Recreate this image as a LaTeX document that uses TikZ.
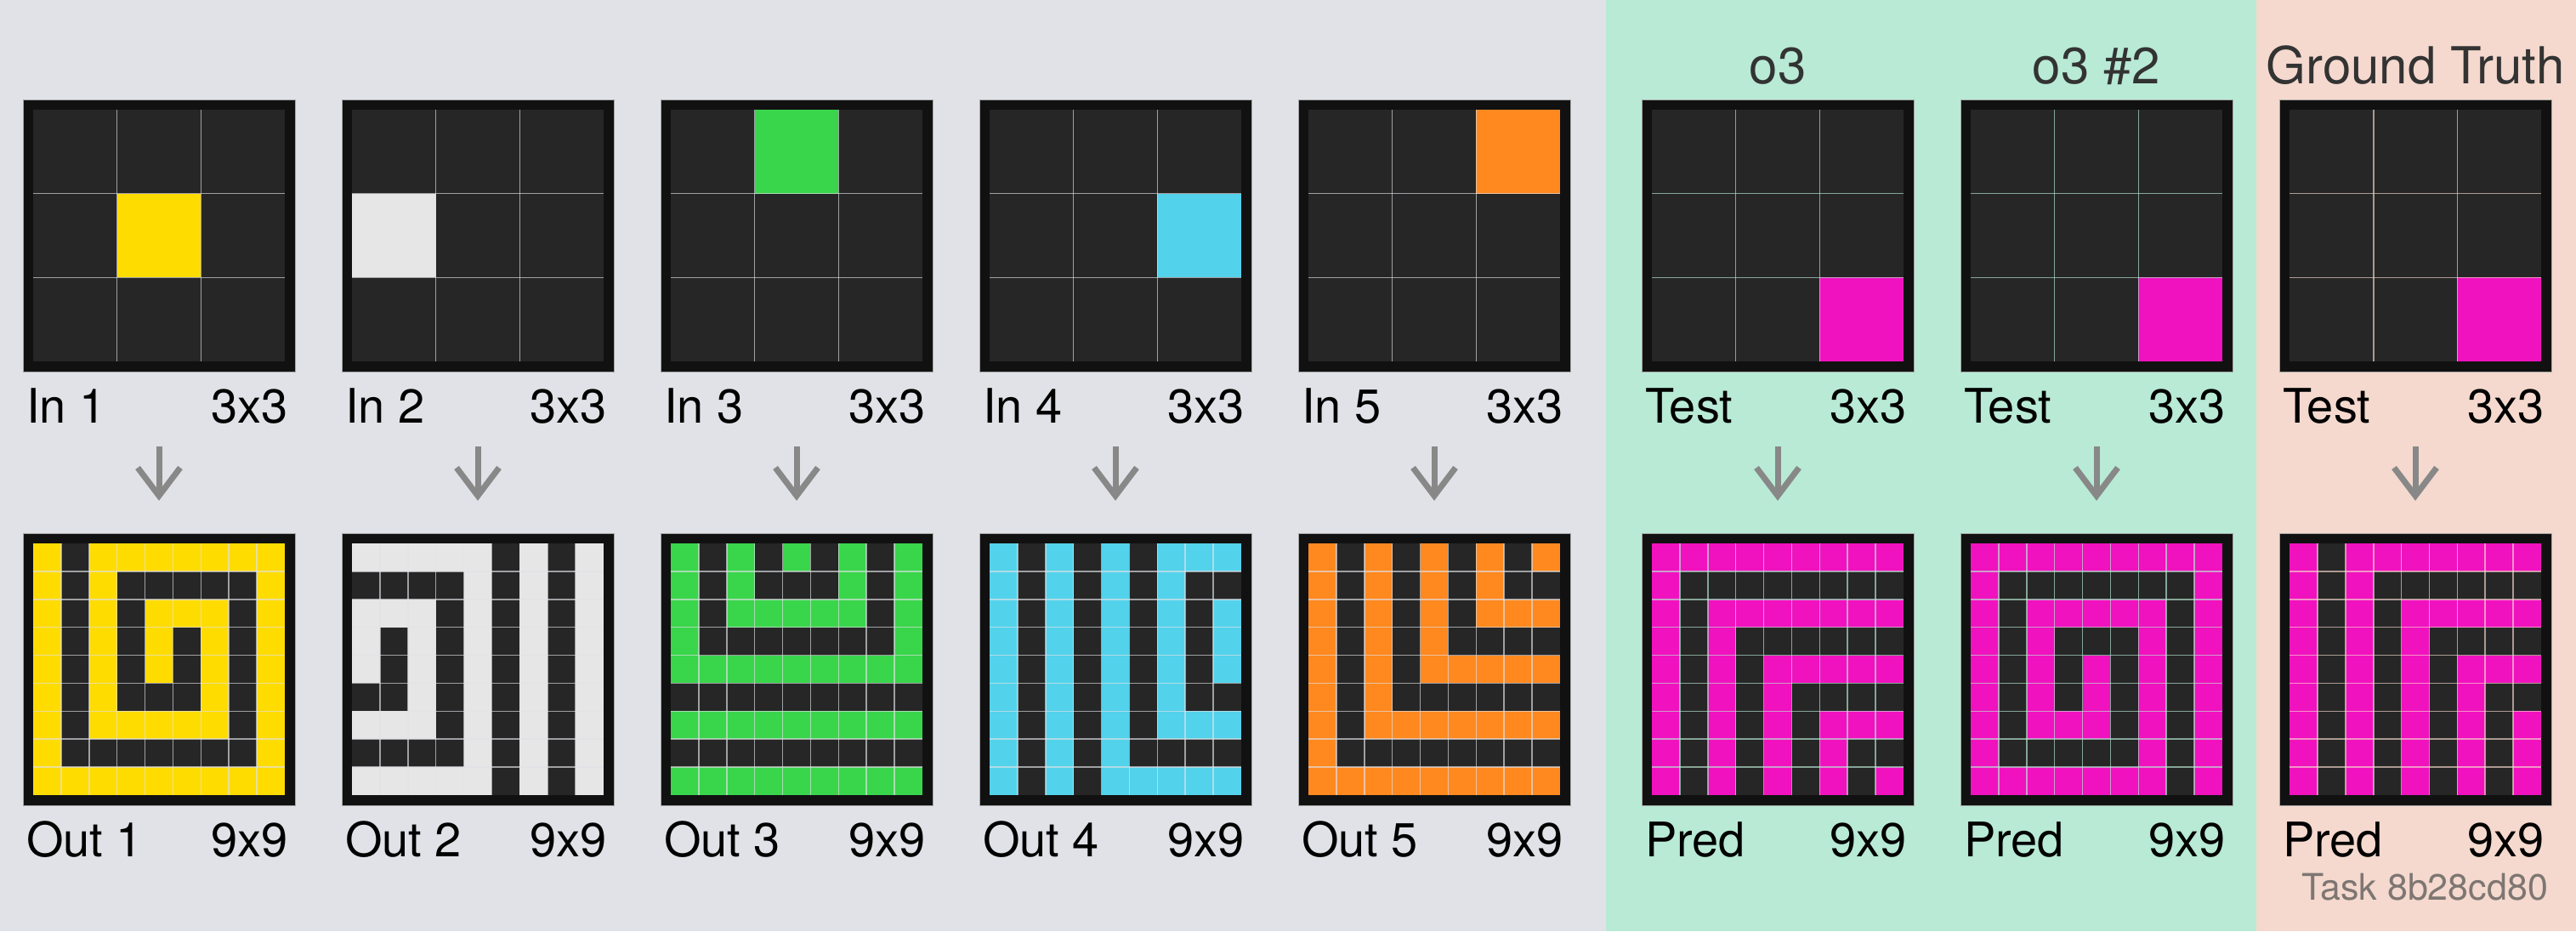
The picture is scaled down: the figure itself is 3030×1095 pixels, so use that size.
\documentclass[tikz,border=0pt]{standalone}
\usepackage{fontspec}
\setmainfont{TeX Gyre Heros}
\usetikzlibrary{calc}
\definecolor{pgray}{HTML}{E1E2E7}
\definecolor{pgreen}{HTML}{B8EAD5}
\definecolor{ppink}{HTML}{F5D9CE}
\definecolor{frameblk}{HTML}{111111}
\definecolor{cellblk}{HTML}{262626}
\definecolor{cyel}{HTML}{FFDC00}
\definecolor{cwht}{HTML}{E6E6E6}
\definecolor{cgrn}{HTML}{39D54B}
\definecolor{ccyn}{HTML}{53D2EB}
\definecolor{corg}{HTML}{FF891F}
\definecolor{cmag}{HTML}{F012BE}
\definecolor{hdrtxt}{HTML}{333333}
\definecolor{arrgray}{HTML}{888888}
\definecolor{tasktxt}{HTML}{7E7672}
\tikzset{
  gridframe/.style={fill=frameblk, draw=gray!70, line width=1pt, minimum width=320pt, minimum height=320pt, inner sep=0pt, outer sep=0pt},
  lbl/.style={font=\fontsize{56}{60}\selectfont, text=black, inner sep=0pt, outer sep=0pt},
  hdr/.style={font=\fontsize{60}{64}\selectfont, text=hdrtxt, inner sep=0pt, outer sep=0pt},
  tasklbl/.style={font=\fontsize{43}{46}\selectfont, text=tasktxt, inner sep=0pt, outer sep=0pt},
  arrln/.style={draw=arrgray, line width=7pt, line join=miter},
}
% #1 name, #2 x, #3 y, #4 n, #5 fill colour, #6 line colour, #7 rows
\newcommand\arcgrid[7]{%
  \node[gridframe, anchor=north west] (#1) at (#2,#3) {};
  \fill[cellblk] (#2+12,#3+12) rectangle ++(296,296);
  \pgfmathsetmacro\cellsz{296/#4}
  \pgfmathtruncatemacro\nmone{#4-1}
  \foreach \rowlist [count=\rr from 0] in {#7} {
    \foreach \vv [count=\cc from 0] in \rowlist {
      \ifnum\vv=1 \fill[#5] ({#2+12+\cc*\cellsz},{#3+12+\rr*\cellsz}) rectangle ++(\cellsz,\cellsz);\fi
    }
  }
  \foreach \kk in {1,...,\nmone} {
    \draw[#6, opacity=0.65, line width=1.6pt] ({#2+12+\kk*\cellsz},{#3+12}) -- ++(0,296);
    \draw[#6, opacity=0.65, line width=1.6pt] ({#2+12},{#3+12+\kk*\cellsz}) -- ++(296,0);
  }
}
\newcommand\gridlabels[3]{%
  \node[lbl, anchor=base west] (#1-l) at ($(#1.south west)+(4,60)$) {#2};
  \node[lbl, anchor=base east] (#1-r) at ($(#1.south east)+(-8,60)$) {#3};
}
\newcommand\gridarrow[2]{%
  \coordinate (#1-as) at ($(#1.south)+(0,88)$);
  \coordinate (#1-ae) at ($(#2.north)+(0,-44)$);
  \draw[arrln] (#1-as) -- (#1-ae);
  \draw[arrln] ($(#1-ae)+(-25,-33)$) -- (#1-ae) -- ($(#1-ae)+(25,-33)$);
}
\begin{document}
\begin{tikzpicture}[x=1pt,y=-1pt]
\useasboundingbox (0,0) rectangle (3030,1095);
\fill[pgray] (0,0) rectangle (1889,1095);
\fill[pgreen] (1889,0) rectangle (2654,1095);
\fill[ppink] (2654,0) rectangle (3030,1095);

% inputs
\arcgrid{in1}{27}{117}{3}{cyel}{pgray}{{0,0,0},{0,1,0},{0,0,0}}
\arcgrid{in2}{402}{117}{3}{cwht}{pgray}{{0,0,0},{1,0,0},{0,0,0}}
\arcgrid{in3}{777}{117}{3}{cgrn}{pgray}{{0,1,0},{0,0,0},{0,0,0}}
\arcgrid{in4}{1152}{117}{3}{ccyn}{pgray}{{0,0,0},{0,0,1},{0,0,0}}
\arcgrid{in5}{1527}{117}{3}{corg}{pgray}{{0,0,1},{0,0,0},{0,0,0}}
\arcgrid{test1}{1931}{117}{3}{cmag}{pgreen}{{0,0,0},{0,0,0},{0,0,1}}
\arcgrid{test2}{2306}{117}{3}{cmag}{pgreen}{{0,0,0},{0,0,0},{0,0,1}}
\arcgrid{test3}{2681}{117}{3}{cmag}{ppink}{{0,0,0},{0,0,0},{0,0,1}}

% outputs
\arcgrid{out1}{27}{627}{9}{cyel}{pgray}{
{1,0,1,1,1,1,1,1,1},
{1,0,1,0,0,0,0,0,1},
{1,0,1,0,1,1,1,0,1},
{1,0,1,0,1,0,1,0,1},
{1,0,1,0,1,0,1,0,1},
{1,0,1,0,0,0,1,0,1},
{1,0,1,1,1,1,1,0,1},
{1,0,0,0,0,0,0,0,1},
{1,1,1,1,1,1,1,1,1}}
\arcgrid{out2}{402}{627}{9}{cwht}{pgray}{
{1,1,1,1,1,0,1,0,1},
{0,0,0,0,1,0,1,0,1},
{1,1,1,0,1,0,1,0,1},
{1,0,1,0,1,0,1,0,1},
{1,0,1,0,1,0,1,0,1},
{0,0,1,0,1,0,1,0,1},
{1,1,1,0,1,0,1,0,1},
{0,0,0,0,1,0,1,0,1},
{1,1,1,1,1,0,1,0,1}}
\arcgrid{out3}{777}{627}{9}{cgrn}{pgray}{
{1,0,1,0,1,0,1,0,1},
{1,0,1,0,0,0,1,0,1},
{1,0,1,1,1,1,1,0,1},
{1,0,0,0,0,0,0,0,1},
{1,1,1,1,1,1,1,1,1},
{0,0,0,0,0,0,0,0,0},
{1,1,1,1,1,1,1,1,1},
{0,0,0,0,0,0,0,0,0},
{1,1,1,1,1,1,1,1,1}}
\arcgrid{out4}{1152}{627}{9}{ccyn}{pgray}{
{1,0,1,0,1,0,1,1,1},
{1,0,1,0,1,0,1,0,0},
{1,0,1,0,1,0,1,0,1},
{1,0,1,0,1,0,1,0,1},
{1,0,1,0,1,0,1,0,1},
{1,0,1,0,1,0,1,0,0},
{1,0,1,0,1,0,1,1,1},
{1,0,1,0,1,0,0,0,0},
{1,0,1,0,1,1,1,1,1}}
\arcgrid{out5}{1527}{627}{9}{corg}{pgray}{
{1,0,1,0,1,0,1,0,1},
{1,0,1,0,1,0,1,0,0},
{1,0,1,0,1,0,1,1,1},
{1,0,1,0,1,0,0,0,0},
{1,0,1,0,1,1,1,1,1},
{1,0,1,0,0,0,0,0,0},
{1,0,1,1,1,1,1,1,1},
{1,0,0,0,0,0,0,0,0},
{1,1,1,1,1,1,1,1,1}}
\arcgrid{pred1}{1931}{627}{9}{cmag}{pgreen}{
{1,1,1,1,1,1,1,1,1},
{1,0,0,0,0,0,0,0,0},
{1,0,1,1,1,1,1,1,1},
{1,0,1,0,0,0,0,0,0},
{1,0,1,0,1,1,1,1,1},
{1,0,1,0,1,0,0,0,0},
{1,0,1,0,1,0,1,1,1},
{1,0,1,0,1,0,1,0,0},
{1,0,1,0,1,0,1,0,1}}
\arcgrid{pred2}{2306}{627}{9}{cmag}{pgreen}{
{1,1,1,1,1,1,1,1,1},
{1,0,0,0,0,0,0,0,1},
{1,0,1,1,1,1,1,0,1},
{1,0,1,0,0,0,1,0,1},
{1,0,1,0,1,0,1,0,1},
{1,0,1,0,1,0,1,0,1},
{1,0,1,1,1,0,1,0,1},
{1,0,0,0,0,0,1,0,1},
{1,1,1,1,1,1,1,0,1}}
\arcgrid{gt}{2681}{627}{9}{cmag}{ppink}{
{1,0,1,1,1,1,1,1,1},
{1,0,1,0,0,0,0,0,0},
{1,0,1,0,1,1,1,1,1},
{1,0,1,0,1,0,0,0,0},
{1,0,1,0,1,0,1,1,1},
{1,0,1,0,1,0,1,0,0},
{1,0,1,0,1,0,1,0,1},
{1,0,1,0,1,0,1,0,1},
{1,0,1,0,1,0,1,0,1}}

% labels
\gridlabels{in1}{In 1}{3x3}
\gridlabels{in2}{In 2}{3x3}
\gridlabels{in3}{In 3}{3x3}
\gridlabels{in4}{In 4}{3x3}
\gridlabels{in5}{In 5}{3x3}
\gridlabels{test1}{Test}{3x3}
\gridlabels{test2}{Test}{3x3}
\gridlabels{test3}{Test}{3x3}
\gridlabels{out1}{Out 1}{9x9}
\gridlabels{out2}{Out 2}{9x9}
\gridlabels{out3}{Out 3}{9x9}
\gridlabels{out4}{Out 4}{9x9}
\gridlabels{out5}{Out 5}{9x9}
\gridlabels{pred1}{Pred}{9x9}
\gridlabels{pred2}{Pred}{9x9}
\gridlabels{gt}{Pred}{9x9}

% arrows
\gridarrow{in1}{out1}
\gridarrow{in2}{out2}
\gridarrow{in3}{out3}
\gridarrow{in4}{out4}
\gridarrow{in5}{out5}
\gridarrow{test1}{pred1}
\gridarrow{test2}{pred2}
\gridarrow{test3}{gt}

% headers
\node[hdr, anchor=base] (h1) at ($(test1.north)+(0,-19)$) {o3};
\node[hdr, anchor=base] (h2) at ($(test2.north)+(0,-19)$) {o3 \#2};
\node[hdr, anchor=base] (h3) at ($(test3.north)+(0,-19)$) {Ground Truth};
\node[tasklbl, anchor=base east] (task) at ($(gt.south east)+(-4,111)$) {Task 8b28cd80};
\end{tikzpicture}
\end{document}
